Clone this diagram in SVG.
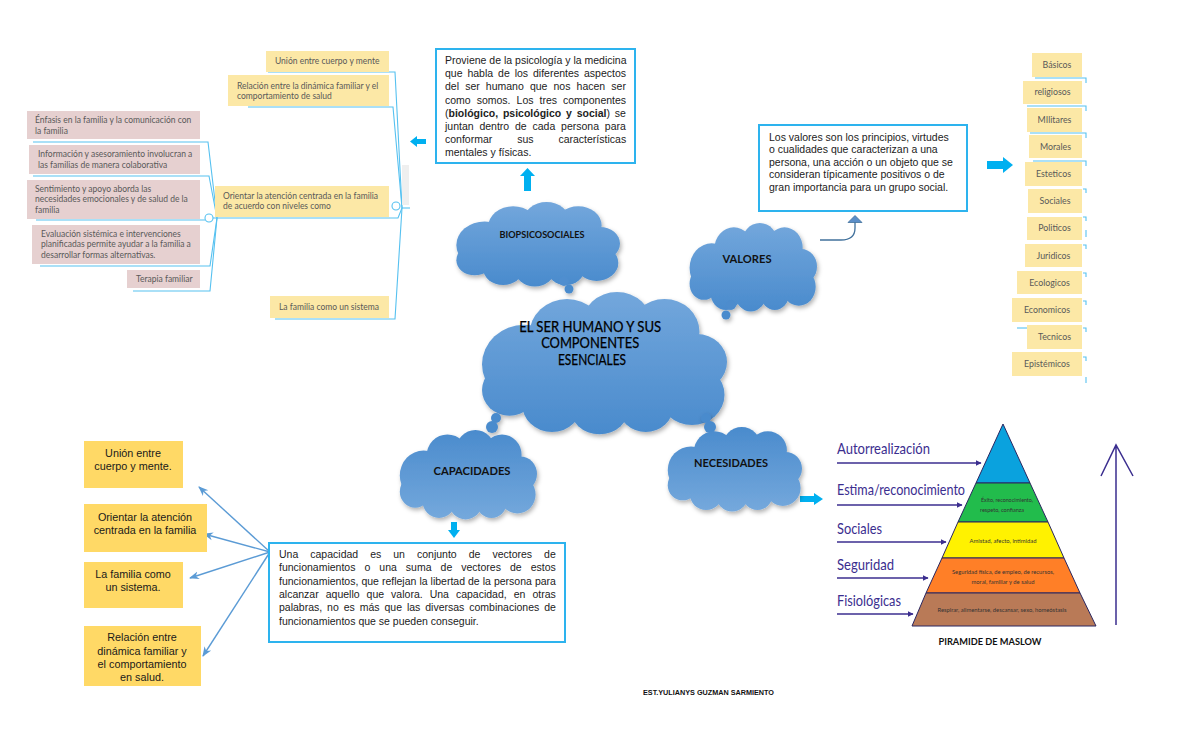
<svg xmlns="http://www.w3.org/2000/svg" xmlns:xlink="http://www.w3.org/1999/xlink" width="1200" height="729" viewBox="0 0 1200 729">
<style>
.mm{font-family:Lato,"Open Sans",sans-serif;font-size:8.5px;fill:#595959}
.rc{font-family:Lato,"Open Sans",sans-serif;font-size:8.8px;fill:#595959;text-anchor:middle}
.yb{fill:#FCE8A6}
.pb{fill:#E6D0D0}
.gb{fill:#FFD966}
.body{font-family:"Liberation Sans",Arial,sans-serif;font-size:10.5px;fill:#222}
.bl{font-family:"Liberation Sans",Arial,sans-serif;font-size:10.8px;fill:#1a1a1a;text-anchor:middle}
.tb{fill:#fff;stroke:#2DB3EE;stroke-width:2}
.cl{font-family:Lato,"Open Sans",sans-serif;font-weight:bold;fill:#111;text-anchor:middle}
.mmline{fill:none;stroke:#56C1F0;stroke-width:1.1}
.blk{fill:#00B0F0}
.lab{font-family:Lato,"Open Sans",sans-serif;font-size:15px;fill:#3B2E8F}
.pt{font-family:Lato,"Open Sans",sans-serif;font-size:6.2px;fill:#333}
.layer{stroke:#2A2660;stroke-width:1}
.marr{stroke:#3B2E8F;stroke-width:1.3;fill:none}
.barr{stroke:#5B9BD5;stroke-width:1.4;fill:none}
</style>
<defs>
<linearGradient id="gLight" gradientUnits="userSpaceOnUse" x1="0" y1="0" x2="0" y2="120">
<stop offset="0" stop-color="#73A7DC"/><stop offset="1" stop-color="#4A8BCD"/>
</linearGradient>
<linearGradient id="gDark" gradientUnits="userSpaceOnUse" x1="0" y1="0" x2="0" y2="120">
<stop offset="0" stop-color="#4A8BCD"/><stop offset="1" stop-color="#74A8DC"/>
</linearGradient>
<filter id="sh" x="-10%" y="-10%" width="125%" height="130%">
<feDropShadow dx="1.5" dy="2.5" stdDeviation="2" flood-color="#000" flood-opacity="0.3"/>
</filter>
<g id="cloudShape">
<circle cx="38" cy="62" r="34"/><circle cx="72" cy="36" r="30"/><circle cx="112" cy="28" r="28"/>
<circle cx="150" cy="34" r="28"/><circle cx="176" cy="60" r="24"/><circle cx="172" cy="88" r="26"/>
<circle cx="135" cy="98" r="22"/><circle cx="98" cy="98" r="24"/><circle cx="60" cy="96" r="24"/>
<circle cx="26" cy="84" r="22"/><circle cx="100" cy="65" r="48"/>
<circle cx="140" cy="68" r="36"/><circle cx="62" cy="68" r="34"/>
</g>
<marker id="mA" viewBox="0 0 10 10" refX="9" refY="5" markerWidth="6" markerHeight="6" orient="auto" markerUnits="userSpaceOnUse">
<path d="M0,0 L10,5 L0,10 Z" fill="#3B2E8F"/>
</marker>
<marker id="bA" viewBox="0 0 10 10" refX="9" refY="5" markerWidth="10" markerHeight="10" orient="auto" markerUnits="userSpaceOnUse">
<path d="M0,1 L10,5 L0,9 L3,5 Z" fill="#5B9BD5"/>
</marker>
</defs>
<rect width="1200" height="729" fill="#fff"/>

<!-- connectors -->
<g id="connectors">
<polyline class="mmline" points="33,142 208,142 217,218"/>
<polyline class="mmline" points="33,176 209,176 217,218"/>
<polyline class="mmline" points="36,220 205,220"/>
<polyline class="mmline" points="40,266 210,266 217,218"/>
<polyline class="mmline" points="133,291 210,291 217,218"/>
<polyline class="mmline" points="213,218 398,218 402,208"/>
<polyline class="mmline" points="268,72 395,72 402,208"/>
<polyline class="mmline" points="248,107 393,107 402,208"/>
<polyline class="mmline" points="275,319 395,319 402,208"/>
<line class="mmline" x1="402" y1="208" x2="410" y2="208"/>
<circle cx="209" cy="218" r="4" fill="#fff" stroke="#56C1F0" stroke-width="1.1"/>
<circle cx="396" cy="206" r="4" fill="#fff" stroke="#56C1F0" stroke-width="1.1"/>
<rect x="402" y="165" width="7" height="40" fill="#EFEFEF"/>
<polyline class="mmline" points="1035,78 1086,78 1086,83"/>
<polyline class="mmline" points="1027,106 1086,106 1086,111"/>
<polyline class="mmline" points="1030,133 1086,133 1086,138"/>
<polyline class="mmline" points="1033,161 1086,161 1086,166"/>
<polyline class="mmline" points="1083,189 1086,189 1086,193"/>
<polyline class="mmline" points="1083,217 1086,217 1086,221"/>
<line class="mmline" x1="1086" y1="230" x2="1086" y2="237"/>
<polyline class="mmline" points="1083,245 1086,245 1086,249"/>
<polyline class="mmline" points="1083,273 1086,273 1086,277"/>
<polyline class="mmline" points="1083,301 1086,301 1086,305"/>
<line class="mmline" x1="1017" y1="328" x2="1027" y2="328"/>
<polyline class="mmline" points="1083,328 1086,328 1086,332"/>
<polyline class="mmline" points="1083,357 1086,357 1086,361"/>
<line class="mmline" x1="1086" y1="377" x2="1086" y2="383"/>
<polygon class="blk" points="410,141.5 417,136 417,139 426,139 426,144 417,144 417,147"/>
<polygon class="blk" points="527.5,168 535,176 531,176 531,191 524,191 524,176 520,176"/>
<polygon class="blk" points="1013,165 1003,157 1003,161 987,161 987,169 1003,169 1003,173"/>
<polygon class="blk" points="454,538 460,530 457,530 457,522 451,522 451,530 448,530"/>
<polygon class="blk" points="823,499 814,493 814,496 800,496 800,502 814,502 814,505"/>
<path d="M820,240 L841,240 Q855,240 855,228 L855,222" fill="none" stroke="#41719C" stroke-width="1.3"/>
<polygon points="848,222.5 855,215.5 862,222.5" fill="#5B8EC8" stroke="#41719C" stroke-width="0.8"/>
<line class="barr" x1="270" y1="552" x2="199" y2="487" marker-end="url(#bA)"/>
<line class="barr" x1="270" y1="552" x2="204" y2="534" marker-end="url(#bA)"/>
<line class="barr" x1="270" y1="552" x2="190" y2="578" marker-end="url(#bA)"/>
<line class="barr" x1="270" y1="552" x2="203" y2="656" marker-end="url(#bA)"/>
<line class="marr" x1="837" y1="463" x2="981" y2="463" marker-end="url(#mA)"/>
<line class="marr" x1="837" y1="505" x2="962" y2="505" marker-end="url(#mA)"/>
<line class="marr" x1="837" y1="542" x2="946" y2="542" marker-end="url(#mA)"/>
<line class="marr" x1="837" y1="578" x2="928" y2="578" marker-end="url(#mA)"/>
<line class="marr" x1="837" y1="614" x2="913" y2="614" marker-end="url(#mA)"/>
<path d="M1116,625 L1116,445 M1101,476 L1116,445 L1133,476" fill="none" stroke="#3B2E8F" stroke-width="1.5"/>
</g>

<g id="mm-union"><rect class="yb" x="266" y="51" width="123" height="21"/><text class="mm" x="275" y="64">Unión entre cuerpo y mente</text></g>
<g id="mm-relacion"><rect class="yb" x="228" y="75" width="161" height="31"/><text class="mm" x="237" y="89">Relación entre la dinámica familiar y el</text><text class="mm" x="237" y="99">comportamiento de salud</text></g>
<g id="mm-orientar"><rect class="yb" x="215" y="186" width="174" height="31"/><text class="mm" x="223" y="199">Orientar la atención centrada en la familia</text><text class="mm" x="223" y="209">de acuerdo con niveles como</text></g>
<g id="mm-sistema"><rect class="yb" x="270" y="296" width="119" height="22"/><text class="mm" x="279" y="310">La familia como un sistema</text></g>

<g id="mm-enfasis"><rect class="pb" x="27" y="111" width="173" height="28"/><text class="mm" x="35" y="123">Énfasis en la familia y la comunicación con</text><text class="mm" x="35" y="134">la familia</text></g>
<g id="mm-informacion"><rect class="pb" x="29" y="145" width="171" height="29"/><text class="mm" x="38" y="157">Información y asesoramiento involucran a</text><text class="mm" x="38" y="168">las familias de manera colaborativa</text></g>
<g id="mm-sentimiento"><rect class="pb" x="27" y="180" width="173" height="39"/><text class="mm" x="35" y="192">Sentimiento y apoyo aborda las</text><text class="mm" x="35" y="202">necesidades emocionales y de salud de la</text><text class="mm" x="35" y="213">familia</text></g>
<g id="mm-evaluacion"><rect class="pb" x="32" y="225" width="168" height="39"/><text class="mm" x="41" y="237">Evaluación sistémica e intervenciones</text><text class="mm" x="41" y="247">planificadas permite ayudar a la familia a</text><text class="mm" x="41" y="258">desarrollar formas alternativas.</text></g>
<g id="mm-terapia"><rect class="pb" x="127" y="270" width="73" height="18"/><text class="mm" x="136" y="282">Terapia familiar</text></g>

<g id="bio-text">
<rect class="tb" x="436" y="49" width="199" height="114"/>
<text class="body" x="445" y="64" word-spacing="0">Proviene de la psicología y la medicina</text>
<text class="body" x="445" y="77" word-spacing="2.0">que habla de los diferentes aspectos</text>
<text class="body" x="445" y="90" word-spacing="3.2">del ser humano que nos hacen ser</text>
<text class="body" x="445" y="104" word-spacing="3.1">como somos. Los tres componentes</text>
<text class="body" x="445" y="117" word-spacing="1.9">(<tspan font-weight="bold">biológico, psicológico y social</tspan>) se</text>
<text class="body" x="445" y="130" word-spacing="2.9">juntan dentro de cada persona para</text>
<text class="body" x="445" y="143" word-spacing="22">conformar sus características</text>
<text class="body" x="445" y="156">mentales y físicas.</text>
</g>

<g id="valores-text">
<rect class="tb" x="759" y="125" width="208" height="86"/>
<text class="body" x="769" y="141">Los valores son los principios, virtudes</text>
<text class="body" x="769" y="153">o cualidades que caracterizan a una</text>
<text class="body" x="769" y="166">persona, una acción o un objeto que se</text>
<text class="body" x="769" y="178">consideran típicamente positivos o de</text>
<text class="body" x="769" y="191">gran importancia para un grupo social.</text>
</g>

<g id="v-basicos"><rect class="yb" x="1032" y="53" width="50" height="24"/><text class="rc" x="1057" y="68">Básicos</text></g>
<g id="v-religiosos"><rect class="yb" x="1023" y="81" width="59" height="23"/><text class="rc" x="1052.5" y="95">religiosos</text></g>
<g id="v-militares"><rect class="yb" x="1027" y="108" width="55" height="24"/><text class="rc" x="1054.5" y="123">MIlitares</text></g>
<g id="v-morales"><rect class="yb" x="1029" y="135" width="53" height="23"/><text class="rc" x="1055.5" y="150">Morales</text></g>
<g id="v-esteticos"><rect class="yb" x="1025" y="162" width="57" height="24"/><text class="rc" x="1053.5" y="177">Esteticos</text></g>
<g id="v-sociales"><rect class="yb" x="1028" y="189" width="54" height="24"/><text class="rc" x="1055" y="204">Sociales</text></g>
<g id="v-politicos"><rect class="yb" x="1027" y="217" width="55" height="23"/><text class="rc" x="1054.5" y="231">Politicos</text></g>
<g id="v-juridicos"><rect class="yb" x="1025" y="244" width="57" height="23"/><text class="rc" x="1053.5" y="259">Juridicos</text></g>
<g id="v-ecologicos"><rect class="yb" x="1017" y="271" width="65" height="23"/><text class="rc" x="1049.5" y="286">Ecologicos</text></g>
<g id="v-economicos"><rect class="yb" x="1012" y="298" width="70" height="24"/><text class="rc" x="1047" y="313">Economicos</text></g>
<g id="v-tecnicos"><rect class="yb" x="1027" y="325" width="55" height="24"/><text class="rc" x="1054.5" y="340">Tecnicos</text></g>
<g id="v-epistemicos"><rect class="yb" x="1012" y="352" width="70" height="24"/><text class="rc" x="1047" y="367">Epistémicos</text></g>

<g id="cloud-bio">
<g filter="url(#sh)" fill="url(#gLight)">
<use xlink:href="#cloudShape" href="#cloudShape" transform="translate(453,202) scale(0.835,0.692)"/>
<circle cx="564" cy="281" r="5" fill="#4F8ECF"/><circle cx="569" cy="289" r="4.5" fill="#4A8BCD"/>
</g>
<text class="cl" x="542" y="238" font-size="9" textLength="85" lengthAdjust="spacingAndGlyphs">BIOPSICOSOCIALES</text>
</g>
<g id="cloud-valores">
<g filter="url(#sh)" fill="url(#gLight)">
<use xlink:href="#cloudShape" href="#cloudShape" transform="translate(687,223) scale(0.65,0.725)"/>
<circle cx="731" cy="305" r="5" fill="#4D8CCD"/><circle cx="726" cy="315" r="4.5" fill="#4A8BCD"/>
</g>
<text class="cl" x="747" y="263" font-size="11" textLength="49" lengthAdjust="spacingAndGlyphs">VALORES</text>
</g>
<g id="cloud-main">
<g filter="url(#sh)" fill="url(#gLight)">
<use xlink:href="#cloudShape" href="#cloudShape" transform="translate(477,292) scale(1.25,1.167)"/>
</g>
<text font-family="Lato,'Open Sans',sans-serif" font-size="14.5" fill="#000" stroke="#000" stroke-width="0.25" text-anchor="middle">
<tspan x="592" y="332" textLength="142" lengthAdjust="spacingAndGlyphs">EL SER HUMANO Y SUS</tspan>
<tspan x="592" y="348" textLength="98" lengthAdjust="spacingAndGlyphs">COMPONENTES</tspan>
<tspan x="592" y="365" textLength="68" lengthAdjust="spacingAndGlyphs">ESENCIALES</tspan>
</text>
</g>
<g id="cloud-capacidades">
<g filter="url(#sh)" fill="url(#gDark)">
<circle cx="492" cy="427" r="6" fill="#4A8BCD"/><circle cx="496" cy="418" r="5" fill="#4A8BCD"/>
<use xlink:href="#cloudShape" href="#cloudShape" transform="translate(397,430) scale(0.7,0.733)"/>
</g>
<text class="cl" x="472" y="475" font-size="11" textLength="77" lengthAdjust="spacingAndGlyphs">CAPACIDADES</text>
</g>
<g id="cloud-necesidades">
<g filter="url(#sh)" fill="url(#gDark)">
<circle cx="710" cy="427" r="6" fill="#4A8BCD"/><circle cx="706" cy="418" r="5" fill="#4A8BCD"/>
<use xlink:href="#cloudShape" href="#cloudShape" transform="translate(665,427) scale(0.685,0.692)"/>
</g>
<text class="cl" x="731" y="467" font-size="11" textLength="74" lengthAdjust="spacingAndGlyphs">NECESIDADES</text>
</g>

<g id="cap-text">
<rect class="tb" x="269" y="543" width="296" height="99"/>
<text class="body" x="279" y="558" word-spacing="9.1">Una capacidad es un conjunto de vectores de</text>
<text class="body" x="279" y="571" word-spacing="6.1">funcionamientos o una suma de vectores de estos</text>
<text class="body" x="279" y="585" word-spacing="0.1">funcionamientos, que reflejan la libertad de la persona para</text>
<text class="body" x="279" y="598" word-spacing="4.1">alcanzar aquello que valora. Una capacidad, en otras</text>
<text class="body" x="279" y="611" word-spacing="2.0">palabras, no es más que las diversas combinaciones de</text>
<text class="body" x="279" y="625">funcionamientos que se pueden conseguir.</text>
</g>

<g id="bl-union"><rect class="gb" x="84" y="441" width="99" height="47"/><text class="bl"><tspan x="133" y="457">Unión entre</tspan><tspan x="133" y="470">cuerpo y mente.</tspan></text></g>
<g id="bl-orientar"><rect class="gb" x="84" y="504" width="123" height="48"/><text class="bl"><tspan x="145" y="521">Orientar la atención</tspan><tspan x="145" y="534">centrada en la familia</tspan></text></g>
<g id="bl-sistema"><rect class="gb" x="84" y="562" width="99" height="46"/><text class="bl"><tspan x="133" y="578">La familia como</tspan><tspan x="133" y="591">un sistema.</tspan></text></g>
<g id="bl-relacion"><rect class="gb" x="84" y="626" width="117" height="60"/><text class="bl"><tspan x="142" y="641">Relación entre</tspan><tspan x="142" y="655">dinámica familiar y</tspan><tspan x="142" y="668">el comportamiento</tspan><tspan x="142" y="681">en salud.</tspan></text></g>

<g id="maslow">
<polygon class="layer" points="1003,424 1030,483 976,483" fill="#0AA2DE"/>
<polygon class="layer" points="976,483 1030,483 1048,522 958,522" fill="#22BC4C"/>
<polygon class="layer" points="958,522 1048,522 1064,558 942,558" fill="#FFF200"/>
<polygon class="layer" points="942,558 1064,558 1080,593 926,593" fill="#FF7F27"/>
<polygon class="layer" points="926,593 1080,593 1096,626 912,626" fill="#B97A57"/>
<text class="pt" x="1007" y="502" font-size="5.6" text-anchor="middle" textLength="52" lengthAdjust="spacingAndGlyphs">Éxito, reconocimiento,</text>
<text class="pt" x="1002" y="512" font-size="5.6" text-anchor="middle" textLength="44" lengthAdjust="spacingAndGlyphs">respeto, confianza</text>
<text class="pt" x="1003" y="543" text-anchor="middle" textLength="67" lengthAdjust="spacingAndGlyphs">Amistad, afecto, intimidad</text>
<text class="pt" x="1003" y="574" text-anchor="middle" textLength="102" lengthAdjust="spacingAndGlyphs">Seguridad física, de empleo, de recursos,</text>
<text class="pt" x="1003" y="584" text-anchor="middle" textLength="63" lengthAdjust="spacingAndGlyphs">moral, familiar y de salud</text>
<text class="pt" x="1002" y="612" text-anchor="middle" textLength="129" lengthAdjust="spacingAndGlyphs">Respirar, alimentarse, descansar, sexo, homeóstasis</text>
<text class="lab" x="837" y="454" textLength="93" lengthAdjust="spacingAndGlyphs">Autorrealización</text>
<text class="lab" x="837" y="495" font-size="13.2" textLength="128" lengthAdjust="spacingAndGlyphs">Estima/reconocimiento</text>
<text class="lab" x="837" y="534" textLength="45" lengthAdjust="spacingAndGlyphs">Sociales</text>
<text class="lab" x="837" y="570" textLength="57" lengthAdjust="spacingAndGlyphs">Seguridad</text>
<text class="lab" x="837" y="606" textLength="64" lengthAdjust="spacingAndGlyphs">Fisiológicas</text>
<text x="990" y="645" font-family="Lato,'Open Sans',sans-serif" font-weight="bold" font-size="9" fill="#111" text-anchor="middle" textLength="103" lengthAdjust="spacingAndGlyphs">PIRAMIDE DE MASLOW</text>
</g>

<g id="author">
<text x="708.5" y="695" font-family="'Liberation Sans',Arial,sans-serif" font-weight="bold" font-size="7.5" fill="#111" text-anchor="middle" textLength="131" lengthAdjust="spacingAndGlyphs">EST.YULIANYS GUZMAN SARMIENTO</text>
</g>
</svg>
